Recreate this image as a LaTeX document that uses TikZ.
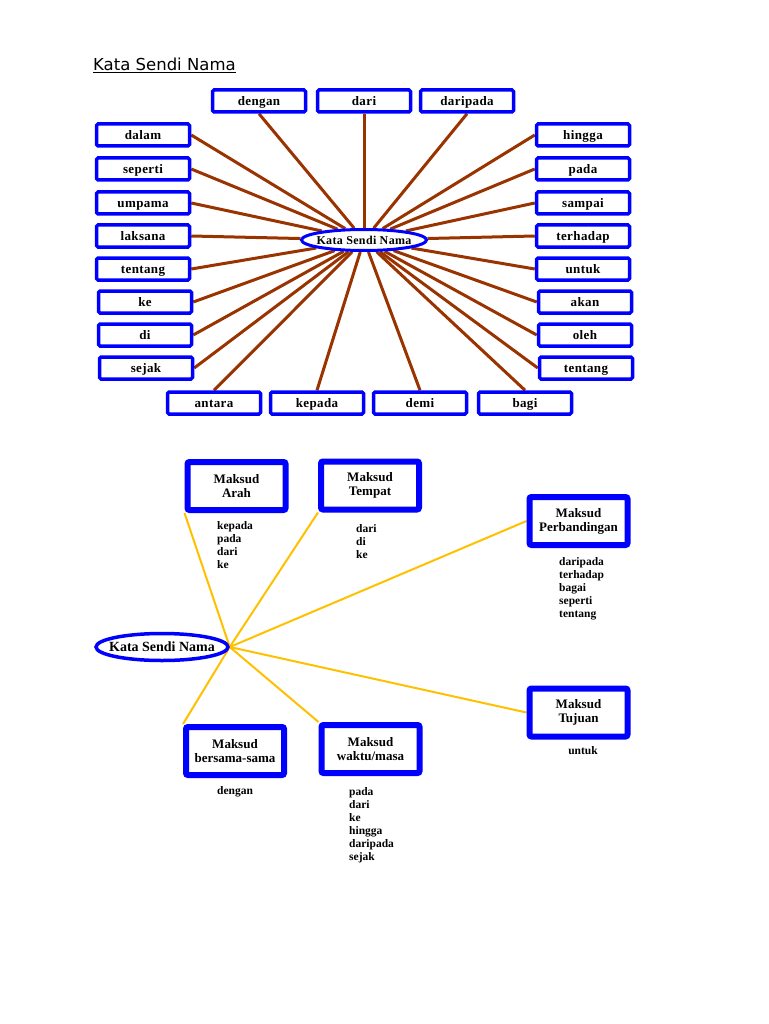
\documentclass[tikz,border=0pt]{standalone}
\usepackage{fontspec}
\setmainfont{Liberation Serif}
\newfontfamily\judulfont{DejaVu Sans}
\newfontfamily\renggangfont{Liberation Serif}[LetterSpace=3]
\usetikzlibrary{shapes.geometric,backgrounds}
\definecolor{birukotak}{RGB}{0,0,255}
\definecolor{coklat}{RGB}{153,51,0}
\definecolor{kuning}{RGB}{255,192,0}
\tikzset{
  kotak/.style={draw=birukotak, line width=3.5pt, fill=white, rounded corners=1.5pt,
    minimum width=93pt, minimum height=22pt, inner sep=0pt, text height=9pt, text depth=0pt,
    font=\renggangfont\bfseries\fontsize{13}{14}\selectfont},
  lonjong/.style={ellipse, draw=birukotak, line width=3pt, fill=white,
    minimum width=125pt, minimum height=21pt, inner xsep=-7pt, inner ysep=0pt,
    font=\renggangfont\bfseries\fontsize{12}{13}\selectfont},
  garis/.style={coklat, line width=3pt},
  maksud/.style={draw=birukotak, line width=6pt, fill=white, rounded corners=2pt,
    minimum width=98pt, minimum height=48pt, inner sep=0pt, align=center,
    font=\bfseries\fontsize{13}{14}\selectfont},
  lonjongb/.style={ellipse, draw=birukotak, line width=3.5pt, fill=white,
    minimum width=132pt, minimum height=27pt, inner xsep=-7pt, inner ysep=0pt,
    font=\bfseries\fontsize{14}{16}\selectfont},
  garisb/.style={kuning, line width=2pt},
  senarai/.style={inner sep=0pt, align=left, font=\bfseries\fontsize{11.5}{13}\selectfont}
}
\begin{document}
\begin{tikzpicture}[x=1pt, y=-1pt]
    \useasboundingbox (0,0) rectangle (768,1024);
    % Title
    \node[anchor=base west, inner sep=0pt, font=\judulfont\fontsize{16.5}{19}\selectfont] (judul) at (93,71) {\underline{Kata Sendi Nama}};

    % First diagram
    \node[lonjong] (pusat) at (364,240) {Kata Sendi Nama};
    \foreach \nama/\teks/\x/\y in {atas1/dengan/259/101, atas2/dari/364/101, atas3/daripada/467/101,
        kiri1/dalam/143/135, kiri2/seperti/143/169, kiri3/umpama/143/203, kiri4/laksana/143/236,
        kiri5/tentang/143/269, kiri6/ke/145/302, kiri7/di/145/335, kiri8/sejak/146/368,
        kanan1/hingga/583/135, kanan2/pada/583/169, kanan3/sampai/583/203, kanan4/terhadap/583/236,
        kanan5/untuk/583/269, kanan6/akan/585/302, kanan7/oleh/585/335, kanan8/tentang/586/368,
        bawah1/antara/214/403, bawah2/kepada/317/403, bawah3/demi/420/403, bawah4/bagi/525/403} {
        \node[kotak] (\nama) at (\x,\y) {\teks};
    }
    % Draw the spokes
    \begin{pgfonlayer}{background}
    \foreach \nama/\sisi in {atas1/south,atas2/south,atas3/south,
        kiri1/east,kiri2/east,kiri3/east,kiri4/east,kiri5/east,kiri6/east,kiri7/east,kiri8/east,
        kanan1/west,kanan2/west,kanan3/west,kanan4/west,kanan5/west,kanan6/west,kanan7/west,kanan8/west,
        bawah1/north,bawah2/north,bawah3/north,bawah4/north} {
        \draw[garis] (pusat) -- (\nama.\sisi);
    }
    \end{pgfonlayer}

    % Second diagram
    \node[lonjongb] (pusatb) at (162,647) {Kata Sendi Nama};
    \node[maksud] (arah) at (236.5,486) {Maksud\\Arah};
    \node[maksud] (tempat) at (370,485.5) {Maksud\\Tempat};
    \node[maksud] (banding) at (578.5,521) {Maksud\\Perbandingan};
    \node[maksud] (tujuan) at (578.5,712.5) {Maksud\\Tujuan};
    \node[maksud] (bersama) at (235,751) {Maksud\\bersama-sama};
    \node[maksud] (waktu) at (370.5,749) {Maksud\\waktu/masa};
    \begin{pgfonlayer}{background}
    \draw[garisb] (pusatb.east) -- (arah.south west);
    \draw[garisb] (pusatb.east) -- (tempat.south west);
    \draw[garisb] (pusatb.east) -- (banding.west);
    \draw[garisb] (pusatb.east) -- (tujuan.west);
    \draw[garisb] (pusatb.east) -- (bersama.north west);
    \draw[garisb] (pusatb.east) -- (waktu.north west);
    \end{pgfonlayer}
    % Word lists
    \node[senarai, anchor=north west] (s1) at (217,521) {kepada\\pada\\dari\\ke};
    \node[senarai, anchor=north west] (s2) at (356,524) {dari\\di\\ke};
    \node[senarai, anchor=north west] (s3) at (559,557) {daripada\\terhadap\\bagai\\seperti\\tentang};
    \node[senarai, anchor=north] (s4) at (583,746) {untuk};
    \node[senarai, anchor=north] (s5) at (235,786) {dengan};
    \node[senarai, anchor=north west] (s6) at (349,787) {pada\\dari\\ke\\hingga\\daripada\\sejak};
\end{tikzpicture}
\end{document}
